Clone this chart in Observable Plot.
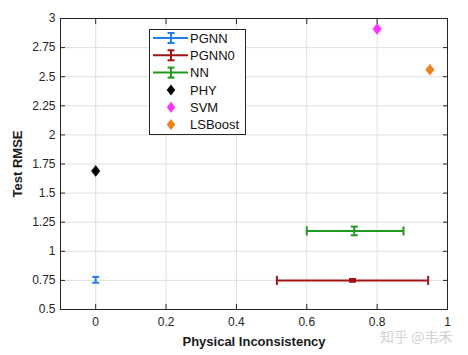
<!DOCTYPE html>
<html><head><meta charset="utf-8">
<script src="https://cdn.jsdelivr.net/npm/d3@7"></script>
<script src="https://cdn.jsdelivr.net/npm/@observablehq/plot@0.6"></script>
<style>
body{margin:0;background:#fff;}
#wrap{position:relative;width:468px;height:355px;font-family:"Liberation Sans",Arial,sans-serif;}
#wrap svg.plot [aria-label="x-axis label"] text,
#wrap svg.plot [aria-label="y-axis label"] text{font-weight:bold;font-size:13px;fill:#1a1a1a;}
#legend{position:absolute;left:149px;top:29px;}
#wm{position:absolute;left:380px;top:329px;color:#d2d2d2;font-family:"Noto Sans CJK SC",sans-serif;font-size:14px;line-height:14px;}
</style></head><body><div id="wrap"></div>
<script>
const models = ["PGNN","PGNN0","NN","PHY","SVM","LSBoost"];
const inconsistency = [0, 0.73, 0.735, 0, 0.8, 0.95];
const inconsistencyLo = [0, 0.515, 0.6, null, null, null];
const inconsistencyHi = [0, 0.945, 0.875, null, null, null];
const rmse = [0.755, 0.75, 1.175, 1.69, 2.91, 2.56];
const rmseErr = [0.025, 0.012, 0.037, null, null, null];
const xTicks = [0, 0.2, 0.4, 0.6, 0.8, 1];
const yTicks = [0.5, 0.75, 1, 1.25, 1.5, 1.75, 2, 2.25, 2.5, 2.75, 3];
const colors = ["#1f7fe6","#a01414","#1e9a1e","#000000","#ff33ff","#f0801e"];

const rows = models.map((m,i)=>({
  model:m, x:inconsistency[i], xlo:inconsistencyLo[i], xhi:inconsistencyHi[i],
  y:rmse[i], ylo: rmseErr[i]==null?null:rmse[i]-rmseErr[i], yhi: rmseErr[i]==null?null:rmse[i]+rmseErr[i],
  color:colors[i]
}));
const eb = rows.filter(d=>d.xlo!=null);
const pts = rows.filter(d=>d.xlo==null);

const vcap = {draw(ctx,size){const r=Math.sqrt(size/Math.PI);ctx.moveTo(0,-r);ctx.lineTo(0,r);}};
const hcap = {draw(ctx,size){const r=Math.sqrt(size/Math.PI);ctx.moveTo(-r,0);ctx.lineTo(r,0);}};
const diamond = {draw(ctx,size){const r=Math.sqrt(size/Math.PI);ctx.moveTo(0,-r);ctx.lineTo(r*0.78,0);ctx.lineTo(0,r);ctx.lineTo(-r*0.78,0);ctx.closePath();}};
const fmt = d => String(+d.toFixed(2));
const none = () => "";
const ink = "#262626";

const chart = Plot.plot({
  width:468, height:355, marginLeft:60, marginRight:21, marginTop:18, marginBottom:46,
  x:{domain:[-0.1,1]}, y:{domain:[0.5,3]},
  color:{type:"identity"},
  style:{fontFamily:"'Liberation Sans',Arial,sans-serif", fontSize:"12px", color:ink, background:"#fff"},
  marks:[
    Plot.gridX(xTicks,{stroke:"#e0e0e0", strokeOpacity:1}),
    Plot.gridY(yTicks,{stroke:"#e0e0e0", strokeOpacity:1}),
    Plot.axisX(xTicks,{tickSize:0, tickPadding:8, tickFormat:fmt, fontSize:12, label:"Physical Inconsistency", labelAnchor:"center", labelArrow:"none", labelOffset:36}),
    Plot.axisX(xTicks,{tickSize:-5, tickFormat:none, label:null, stroke:ink}),
    Plot.axisX(xTicks,{anchor:"top", tickSize:-5, tickFormat:none, label:null, stroke:ink}),
    Plot.axisY(yTicks,{tickSize:0, tickPadding:5, tickFormat:fmt, fontSize:12, label:"Test RMSE", labelAnchor:"center", labelArrow:"none", labelOffset:48}),
    Plot.axisY(yTicks,{tickSize:-5, tickFormat:none, label:null, stroke:ink}),
    Plot.axisY(yTicks,{anchor:"right", tickSize:-5, tickFormat:none, label:null, stroke:ink}),
    Plot.frame({stroke:ink}),
    Plot.ruleY(eb,{y:"y", x1:"xlo", x2:"xhi", stroke:"color", strokeWidth:2}),
    Plot.ruleX(eb,{x:"x", y1:"ylo", y2:"yhi", stroke:"color", strokeWidth:2}),
    Plot.dot(eb.filter(d=>d.xhi>d.xlo),{x:"xlo", y:"y", symbol:vcap, r:4.5, stroke:"color", strokeWidth:2}),
    Plot.dot(eb.filter(d=>d.xhi>d.xlo),{x:"xhi", y:"y", symbol:vcap, r:4.5, stroke:"color", strokeWidth:2}),
    Plot.dot(eb,{x:"x", y:"ylo", symbol:hcap, r:3.5, stroke:"color", strokeWidth:2}),
    Plot.dot(eb,{x:"x", y:"yhi", symbol:hcap, r:3.5, stroke:"color", strokeWidth:2}),
    Plot.dot(pts,{x:"x", y:"y", symbol:diamond, r:5.5, fill:"color", stroke:"color", strokeWidth:0.5})
  ]
});
chart.classList.add("plot");
const wrap = document.getElementById("wrap");
wrap.appendChild(chart);

// legend
const lw = 97, lh = 106;
const lg = d3.select(wrap).append("svg").attr("id","legend").attr("width",lw).attr("height",lh);
lg.append("rect").attr("x",0.5).attr("y",0.5).attr("width",lw-1).attr("height",lh-1).attr("fill","#fff").attr("stroke",ink);
rows.forEach((d,i)=>{
  const cy = 9 + i*17.3;
  const g = lg.append("g").attr("transform",`translate(0,${cy})`);
  if (d.xlo!=null){
    g.append("line").attr("x1",4).attr("x2",39).attr("y1",0).attr("y2",0).attr("stroke",d.color).attr("stroke-width",2);
    g.append("line").attr("x1",22).attr("x2",22).attr("y1",-5).attr("y2",5).attr("stroke",d.color).attr("stroke-width",2);
    g.append("line").attr("x1",18.5).attr("x2",25.5).attr("y1",-5).attr("y2",-5).attr("stroke",d.color).attr("stroke-width",2);
    g.append("line").attr("x1",18.5).attr("x2",25.5).attr("y1",5).attr("y2",5).attr("stroke",d.color).attr("stroke-width",2);
  } else {
    g.append("path").attr("d","M22,-5.5L26.3,0L22,5.5L17.7,0Z").attr("fill",d.color);
  }
  g.append("text").attr("x",41).attr("y",0).attr("dy","0.36em").attr("font-size",13)
    .attr("font-family","'Liberation Sans',Arial,sans-serif").attr("fill","#111").text(d.model);
});

const wm = document.createElement("div");
wm.id = "wm"; wm.textContent = "知乎 @韦禾";
wrap.appendChild(wm);
</script>
</body></html>
